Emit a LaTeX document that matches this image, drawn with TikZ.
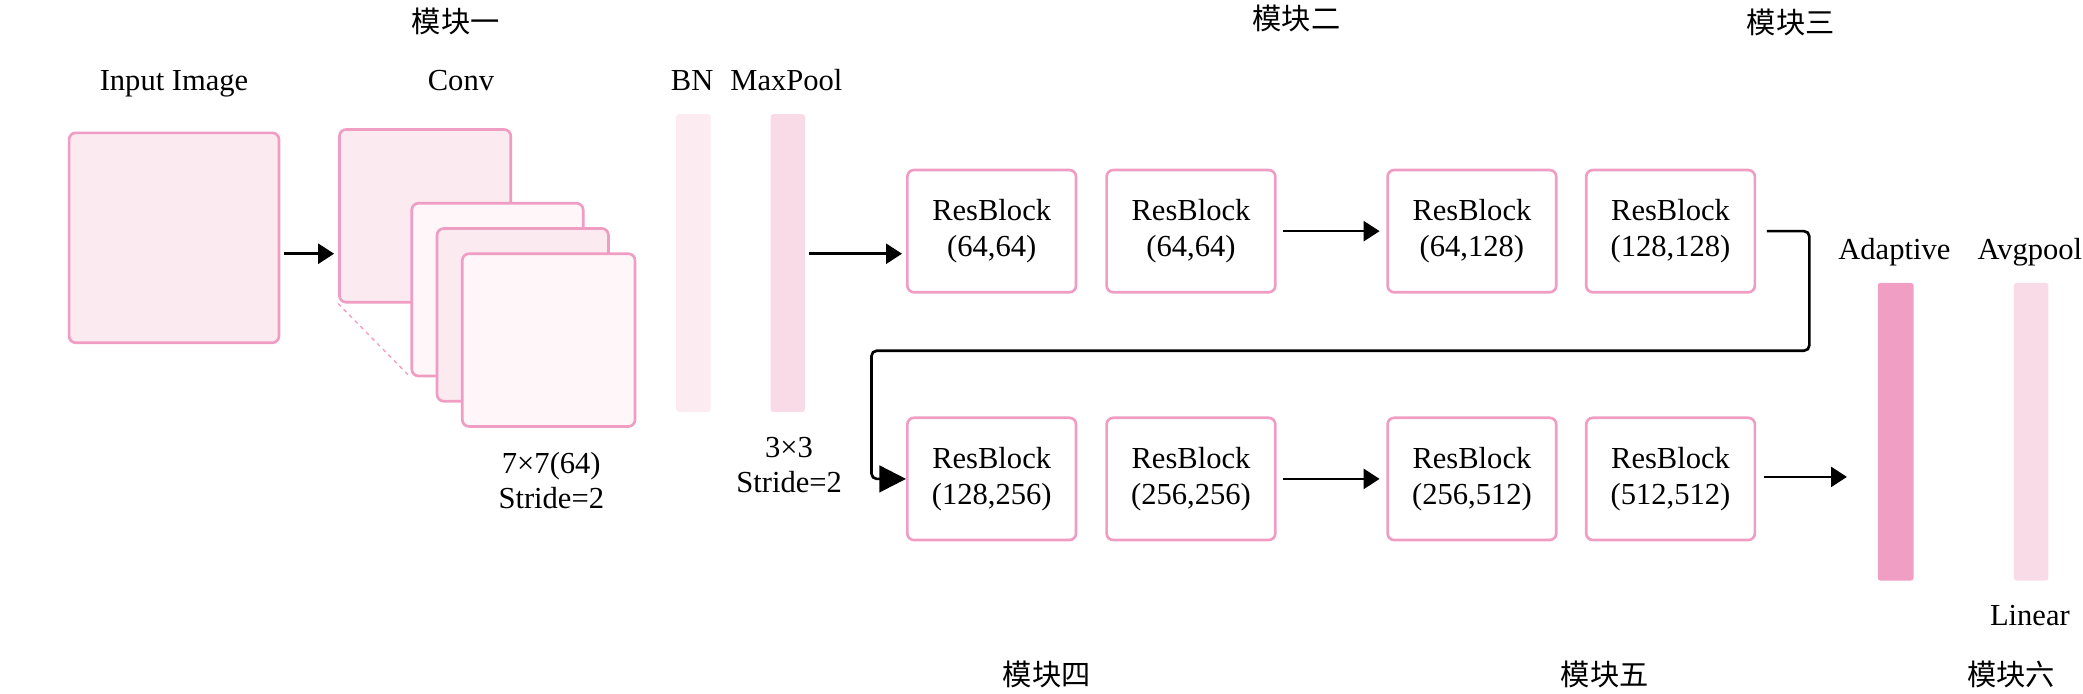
\documentclass[tikz,border=0pt]{standalone}
\usepackage{fontspec}
\setmainfont{Liberation Serif}
\newfontfamily\cjk{Noto Sans CJK SC}
\usetikzlibrary{arrows.meta,calc}
\definecolor{pk}{HTML}{F09DC3}
\definecolor{pkA}{HTML}{FCEAF1}
\definecolor{pkB}{HTML}{FEF6F9}
\definecolor{pkBar}{HTML}{F9DBE7}
\definecolor{pkBN}{HTML}{FCEBF1}
\definecolor{pkDark}{HTML}{F19EC4}
\begin{document}
\begin{tikzpicture}[x=1pt,y=-1pt,
 lbl/.style={font=\fontsize{23}{25}\selectfont, inner sep=0pt, anchor=base},
 lbl2/.style={font=\fontsize{23}{26.5}\selectfont, inner sep=0pt, align=center},
 cn/.style={font=\cjk\fontsize{22}{24}\selectfont, inner sep=0pt},
 frame/.style={draw=pk, line width=2pt, rounded corners=5pt, inner sep=0pt},
 bar/.style={rounded corners=2pt, inner sep=0pt, minimum width=26pt, minimum height=224pt},
 rb/.style={frame, fill=white, minimum width=127pt, minimum height=92pt, align=center, font=\fontsize{23}{27}\selectfont},
 arr/.style={line width=2pt, -{Triangle[length=12pt,width=15pt]}},
]
\useasboundingbox (0,0) rectangle (1568,522);

% titles
\node[cn] (m1) at (343,16) {模块一};
\node[cn] (m2) at (976,14) {模块二};
\node[cn] (m3) at (1348,17) {模块三};
\node[cn] (m4) at (788,508) {模块四};
\node[cn] (m5) at (1208,508) {模块五};
\node[cn] (m6) at (1514,508) {模块六};

\node[lbl] (tin) at (131,68) {Input Image};
\node[lbl] (tconv) at (347,68) {Conv};
\node[lbl] (tbn) at (521,68) {BN};
\node[lbl] (tmp) at (592,68) {MaxPool};
\node[lbl] (tad) at (1426,195) {Adaptive};
\node[lbl] (tav) at (1528,195) {Avgpool};
\node[lbl] (tli) at (1528,471) {Linear};
\node[lbl2] (tk7) at (415,361.5) {7×7(64)\\Stride=2};
\node[lbl2] (tk3) at (594,350) {3×3\\Stride=2};

% input and conv stack
\node[frame, fill=pkA, minimum width=158pt, minimum height=158pt] (in) at (131,179) {};
\node[frame, fill=pkA, minimum width=129pt, minimum height=130pt] (c1) at (320,162.5) {};
\node[frame, fill=pkB, minimum width=129pt, minimum height=130pt] (c2) at (374.5,218) {};
\draw[pk, line width=1pt, dashed] (c1.south west) -- (c2.south west);
\node[frame, fill=pkA, minimum width=129pt, minimum height=130pt] (c3) at (393.5,237) {};
\node[frame, fill=pkB, minimum width=130pt, minimum height=130pt] (c4) at (413,256) {};

% bars
\node[bar, fill=pkBN] (bn) at (522,198) {};
\node[bar, fill=pkBar] (mp) at (593,198) {};
\node[bar, fill=pkDark, minimum width=27pt] (ad) at (1427,325) {};
\node[bar, fill=pkBar] (av) at (1529,325) {};

% resblocks
\node[rb] (r1) at (746.5,174) {ResBlock\\(64,64)};
\node[rb] (r2) at (896.5,174) {ResBlock\\(64,64)};
\node[rb] (r3) at (1108,174) {ResBlock\\(64,128)};
\node[rb] (r4) at (1257.5,174) {ResBlock\\(128,128)};
\node[rb] (r5) at (746.5,360.5) {ResBlock\\(128,256)};
\node[rb] (r6) at (896.5,360.5) {ResBlock\\(256,256)};
\node[rb] (r7) at (1108,360.5) {ResBlock\\(256,512)};
\node[rb] (r8) at (1257.5,360.5) {ResBlock\\(512,512)};

% arrows
\draw[arr] ($(in.east)+(3,12)$) -- ($(c1.west)+(-3,28.5)$);
\draw[arr] ($(mp.east)+(3,-7)$) -- ($(r1.west)+(-3,17)$);
\draw[arr, shorten <=5pt, shorten >=5pt] (r2.east) -- (r3.west);
\draw[arr, shorten <=5pt, shorten >=5pt] (r6.east) -- (r7.west);
\draw[arr] ($(r8.east)+(6,-1.5)$) -- ($(ad.west)+(-23,34)$);
\draw[line width=2pt, rounded corners=4pt, shorten <=8pt, -{Triangle[length=20pt,width=20pt]}]
  (r4.east) -- ++(40,0) -- ++(0,90) -| ($(r5.west)+(-26,0)$) -- (r5.west);
\end{tikzpicture}
\end{document}
